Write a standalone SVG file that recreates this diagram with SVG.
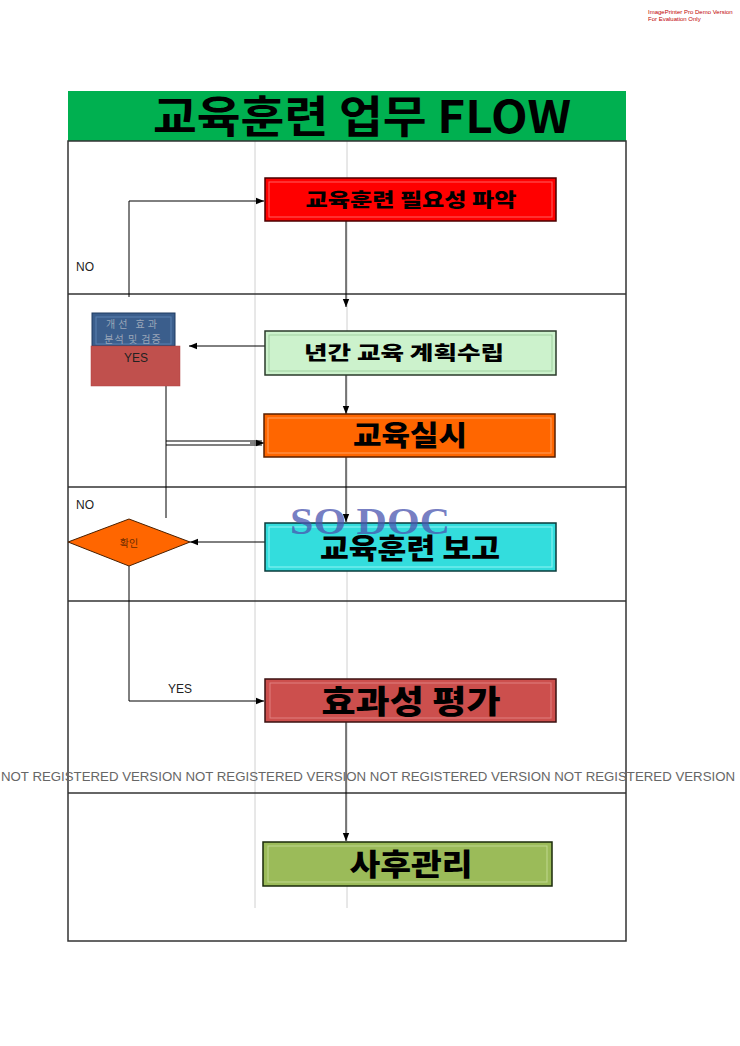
<svg xmlns="http://www.w3.org/2000/svg" width="740" height="1046" viewBox="0 0 740 1046">
<defs>
<style>
.ko{font-family:"Noto Sans CJK KR","Noto Sans",sans-serif;font-weight:900;fill:#000}
.lbl{font-family:"Liberation Sans",Arial,sans-serif;font-size:12px;fill:#222}
.conn{stroke:#000;stroke-width:1;fill:none}
.grid{stroke:#d0d0d0;stroke-width:1}
.frame{stroke:#333;stroke-width:1.5;fill:none}
</style>
<marker id="ah" viewBox="0 0 10 10" refX="10" refY="5" markerWidth="8" markerHeight="8" orient="auto" markerUnits="userSpaceOnUse">
<path d="M0,1 L10,5 L0,9 z" fill="#000"/>
</marker>
</defs>
<rect width="740" height="1046" fill="#fff"/>
<text x="648" y="14" font-family="Liberation Sans,Arial,sans-serif" font-size="6" fill="#c00000">ImagePrinter Pro Demo Version</text>
<text x="648" y="21" font-family="Liberation Sans,Arial,sans-serif" font-size="6" fill="#c00000">For Evaluation Only</text>

<g id="title">
<rect x="68" y="91" width="558" height="50" fill="#00b050"/>
<text x="362" y="133" font-family="Noto Sans CJK KR,sans-serif" font-weight="700" fill="#000" font-size="44" text-anchor="middle" textLength="418" lengthAdjust="spacingAndGlyphs">교육훈련 업무 FLOW</text>
</g>

<g id="grid">
<line class="grid" x1="255" y1="141" x2="255" y2="908"/>
<line class="grid" x1="347" y1="141" x2="347" y2="908"/>
<rect class="frame" x="68" y="141" width="558" height="800"/>
<line class="frame" x1="68" y1="294" x2="626" y2="294"/>
<line class="frame" x1="68" y1="487" x2="626" y2="487"/>
<line class="frame" x1="68" y1="601" x2="626" y2="601"/>
<line class="frame" x1="68" y1="793" x2="626" y2="793"/>
</g>

<g id="connectors">
<polyline class="conn" points="129,297 129,201 264,201" marker-end="url(#ah)"/>
<line class="conn" x1="346" y1="221" x2="346" y2="307" marker-end="url(#ah)"/>
<line class="conn" x1="265" y1="346" x2="189" y2="346" marker-end="url(#ah)"/>
<line class="conn" x1="346" y1="375" x2="346" y2="414" marker-end="url(#ah)"/>
<line class="conn" x1="166" y1="386" x2="166" y2="518"/>
<line class="conn" x1="166" y1="441" x2="262" y2="441"/>
<line class="conn" x1="166" y1="445" x2="262" y2="445"/>
<line class="conn" x1="250" y1="443" x2="264" y2="443" marker-end="url(#ah)"/>
<line class="conn" x1="346" y1="457" x2="346" y2="522" marker-end="url(#ah)"/>
<line class="conn" x1="265" y1="542" x2="190" y2="542" marker-end="url(#ah)"/>
<polyline class="conn" points="129,566 129,701 264,701" marker-end="url(#ah)"/>
<line class="conn" x1="346" y1="722" x2="346" y2="841" marker-end="url(#ah)"/>
<text class="lbl" x="76" y="271">NO</text>
<text class="lbl" x="76" y="509">NO</text>
<text class="lbl" x="168" y="693">YES</text>
</g>

<g id="n1">
<rect x="265" y="178" width="291" height="43" fill="#ff0000" stroke="#4a0000" stroke-width="1.5"/>
<rect x="269" y="182" width="283" height="35" fill="none" stroke="#ff6060" stroke-width="1"/>
<text class="ko" x="411" y="207" font-size="19" text-anchor="middle" textLength="211" lengthAdjust="spacingAndGlyphs">교육훈련 필요성 파악</text>
</g>

<g id="n2">
<rect x="265" y="331" width="291" height="44" fill="#ccf2cc" stroke="#2a3a2a" stroke-width="1.5"/>
<rect x="269" y="335" width="283" height="36" fill="none" stroke="#a0d0a0" stroke-width="1"/>
<text class="ko" x="404" y="360" font-size="19" text-anchor="middle" textLength="200" lengthAdjust="spacingAndGlyphs">년간 교육 계획수립</text>
</g>

<g id="n3">
<rect x="264" y="414" width="291" height="43" fill="#ff6600" stroke="#5a2000" stroke-width="1.5"/>
<rect x="268" y="418" width="283" height="35" fill="none" stroke="#ffa060" stroke-width="1"/>
<text class="ko" x="410" y="446" font-size="28" text-anchor="middle" textLength="114" lengthAdjust="spacingAndGlyphs">교육실시</text>
</g>

<g id="n4">
<rect x="265" y="523" width="291" height="48" fill="#33dddd" stroke="#0a3a3a" stroke-width="1.5"/>
<rect x="269" y="527" width="283" height="40" fill="none" stroke="#90f5f5" stroke-width="1"/>
<text class="ko" x="410" y="559" font-size="28" text-anchor="middle" textLength="180" lengthAdjust="spacingAndGlyphs">교육훈련 보고</text>
</g>

<g id="n5">
<rect x="265" y="679" width="291" height="43" fill="#cc4f4d" stroke="#3a1010" stroke-width="1.5"/>
<rect x="270" y="683" width="281" height="35" fill="none" stroke="#e08080" stroke-width="1"/>
<text class="ko" x="411" y="713" font-size="32" text-anchor="middle" textLength="179" lengthAdjust="spacingAndGlyphs">효과성 평가</text>
</g>

<g id="n6">
<rect x="263" y="842" width="289" height="44" fill="#9bbb59" stroke="#1a2a0a" stroke-width="1.5"/>
<rect x="268" y="846" width="279" height="36" fill="none" stroke="#c0d890" stroke-width="1"/>
<text class="ko" x="411" y="875" font-size="30" text-anchor="middle" textLength="123" lengthAdjust="spacingAndGlyphs">사후관리</text>
</g>

<g id="n7">
<rect x="92" y="313" width="83" height="33" fill="#3b5e8c" stroke="#1f3a60" stroke-width="1"/>
<rect x="96" y="317" width="75" height="27" fill="none" stroke="#5a80b0" stroke-width="1"/>
<text x="133" y="328" font-family="Noto Sans CJK KR,sans-serif" font-size="10" fill="#9aa6b8" text-anchor="middle" letter-spacing="3">개선 효과</text>
<text x="133" y="343" font-family="Noto Sans CJK KR,sans-serif" font-size="10" fill="#9aa6b8" text-anchor="middle" letter-spacing="1">분석 및 검증</text>
<rect x="91" y="346" width="89" height="40" fill="#c0504d" stroke="#b04040" stroke-width="0.5"/>
<text x="136" y="362" font-family="Liberation Sans,Arial,sans-serif" font-size="12" fill="#222" text-anchor="middle">YES</text>
</g>

<g id="n8">
<polygon points="68,542 129,519 190,542 129,566" fill="#ff6600" stroke="#4a2000" stroke-width="1"/>
<text x="129" y="547" font-family="Noto Sans CJK KR,sans-serif" font-size="10" fill="#6a2a00" text-anchor="middle">확인</text>
</g>

<text x="370" y="534" font-family="Liberation Serif,serif" font-weight="bold" font-size="38" fill="#4a55b0" fill-opacity="0.75" text-anchor="middle" textLength="160" lengthAdjust="spacingAndGlyphs">SO DOC</text>
<text x="368" y="781" font-family="Liberation Sans,Arial,sans-serif" font-size="13" fill="#666" text-anchor="middle" textLength="734" lengthAdjust="spacingAndGlyphs">NOT REGISTERED VERSION NOT REGISTERED VERSION NOT REGISTERED VERSION NOT REGISTERED VERSION</text>
</svg>
